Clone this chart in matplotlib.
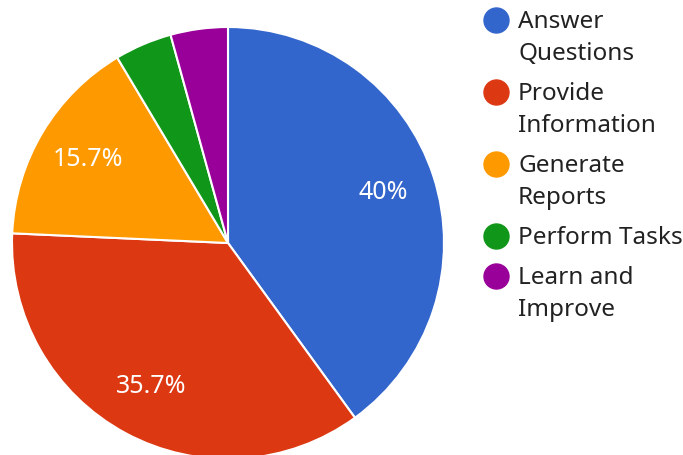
import matplotlib.pyplot as plt

labels = ["Answer\nQuestions", "Provide\nInformation", "Generate\nReports",
          "Perform Tasks", "Learn and\nImprove"]
values = [28, 25, 11, 3, 3]
colors = ["#3366cc", "#dc3912", "#ff9900", "#109618", "#990099"]

plt.rcParams['font.family'] = ['Noto Sans', 'DejaVu Sans']

W, H = 683, 455
fig = plt.figure(figsize=(W / 100, H / 100), dpi=100)
ax = fig.add_axes([0, 0, 1, 1])


def pct(p):
    # small slices get no label
    if p < 5:
        return ""
    return f"{p:.1f}%".replace(".0%", "%")


wedges, texts, autotexts = ax.pie(
    values, colors=colors, startangle=90, counterclock=False,
    center=(228, H - 243), radius=216, frame=True,
    autopct=pct, pctdistance=0.755,
    wedgeprops=dict(edgecolor='white', linewidth=1.5),
    textprops=dict(color='white', fontsize=18))
ax.set_xlim(0, W)
ax.set_ylim(0, H)
ax.set_aspect('equal')
ax.axis('off')

# legend, drawn by hand so the dot sits on the first line
y_dots = [20, 92, 164, 236, 276]
for lab, c, yd in zip(labels, colors, y_dots):
    ax.plot(496, H - yd, 'o', color=c, markersize=18, clip_on=False)
    ax.text(518, H - yd + 10, lab, color='#222222', fontsize=17.5,
            va='top', ha='left', linespacing=1.45)

fig.savefig("out.png", dpi=100)
